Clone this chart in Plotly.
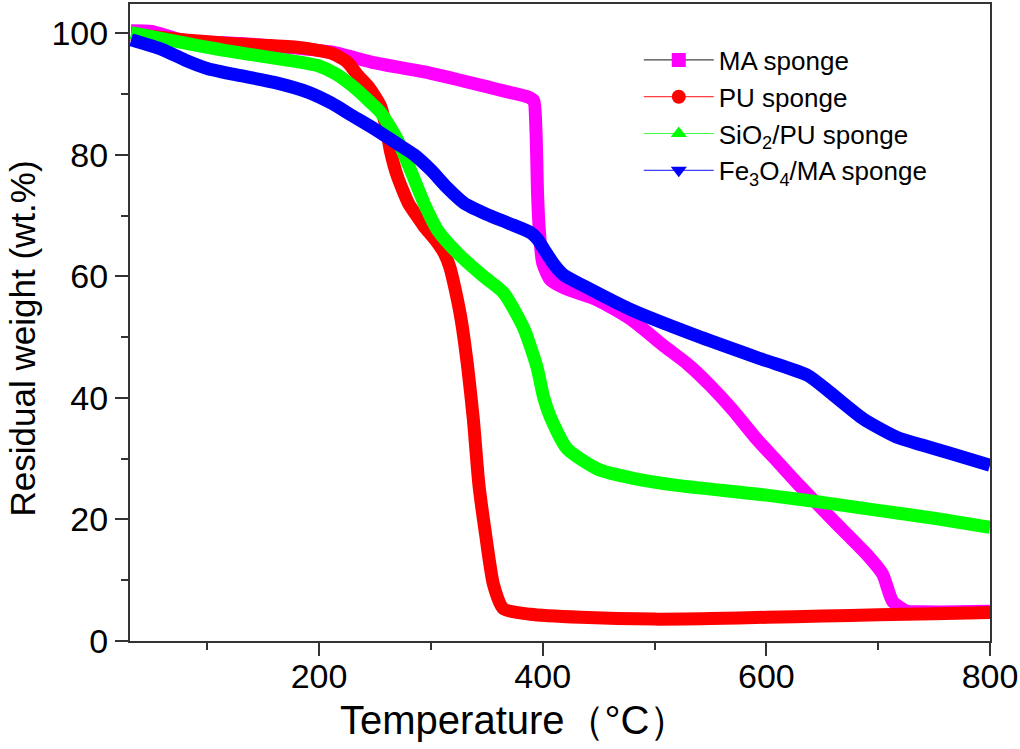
import plotly.graph_objects as go

# ---- data ----
names = ["MA sponge", "PU sponge", "SiO<sub>2</sub>/PU sponge", "Fe<sub>3</sub>O<sub>4</sub>/MA sponge"]
colors = ["#ff00ff", "#ff0000", "#00ff00", "#0000ff"]
legend_line_colors = ["#444444", "#ff4040", "#40ff40", "#4040ff"]
symbols = ["square", "circle", "triangle-up", "triangle-down"]

ma_T = [32, 50, 62, 75, 90, 130, 170, 211, 250, 300, 350, 365, 387, 392, 394, 395.5, 397, 400, 407,
        420, 449, 479, 508, 530, 550, 570, 590, 610, 630, 660, 690, 704, 713, 726, 740, 770, 800]
ma_W = [100.4, 100.3, 99.7, 99.0, 98.6, 98.3, 97.7, 96.9, 95.1, 93.4, 91.2, 90.5, 89.5, 88.9, 84.0, 73.2, 67.6, 62.2, 59.4,
        58.0, 56.1, 52.9, 48.6, 45.5, 42.0, 38.0, 33.5, 29.5, 25.5, 19.8, 14.2, 11.0, 6.5, 4.9, 4.8, 4.8, 4.9]

pu_T = [32, 60, 80, 120, 180, 211, 225, 235, 245, 255, 260, 264, 270, 280, 288, 294, 304, 312, 317, 321,
        327, 333, 338, 343, 349, 356, 365, 389, 434, 500, 550, 600, 650, 700, 750, 800]
pu_W = [99.8, 99.3, 98.9, 98.3, 97.7, 96.7, 95.3, 93.0, 91.0, 88.0, 84.5, 80.5, 76.5, 72.0, 69.8, 68.2, 66.0, 63.8, 61.5, 58.5,
        53.0, 45.0, 36.5, 25.7, 17.5, 9.3, 5.3, 4.4, 3.9, 3.6, 3.7, 3.9, 4.1, 4.3, 4.5, 4.7]

si_T = [32, 77, 121, 181, 200, 215, 230, 245, 255, 270, 282, 294, 306, 324, 347, 365, 383, 395, 401, 407, 422, 449,
        480, 520, 560, 600, 650, 700, 750, 800]
si_W = [100.1, 98.5, 97.0, 95.3, 94.6, 93.3, 91.3, 88.8, 87.0, 82.5, 77.4, 72.0, 67.6, 63.8, 60.0, 57.3, 51.5, 45.0, 40.0, 36.8, 31.6, 28.3,
        26.8, 25.6, 24.8, 24.0, 22.8, 21.5, 20.2, 18.7]

fe_T = [32, 60, 80, 100, 130, 160, 190, 211, 229, 250, 270, 285, 300, 315, 330, 350, 370, 389, 395, 401, 410, 419,
        437, 479, 538, 597, 637, 657, 687, 717, 740, 762, 800]
fe_W = [98.9, 97.3, 95.6, 94.2, 93.0, 91.9, 90.3, 88.5, 86.5, 84.2, 81.8, 80.0, 77.5, 74.5, 72.0, 70.2, 68.7, 67.2, 66.2, 64.5, 62.0, 60.2,
        58.4, 54.5, 50.2, 46.3, 43.7, 40.9, 36.5, 33.5, 32.2, 31.0, 28.9]

series_T = [ma_T, pu_T, si_T, fe_T]
series_W = [ma_W, pu_W, si_W, fe_W]

x_ticks = [200, 400, 600, 800]
y_ticks = [0, 20, 40, 60, 80, 100]

FONT = "Arial, Liberation Sans, sans-serif"

fig = go.Figure()

# thick data bands
for T, W, c in zip(series_T, series_W, colors):
    fig.add_trace(go.Scatter(x=T, y=W, mode="lines",
                             line=dict(color=c, width=13, shape="spline", smoothing=0.6),
                             showlegend=False, hoverinfo="skip"))

# legend entries
for n, c, lc, s in zip(names, colors, legend_line_colors, symbols):
    fig.add_trace(go.Scatter(x=[None], y=[None], mode="lines+markers", name=n,
                             line=dict(color=lc, width=1.2),
                             marker=dict(color=c, symbol=s, size=14, line=dict(width=0))))

axis_common = dict(
    showline=True, linecolor="#333333", linewidth=2, mirror=True,
    ticks="outside", tickwidth=2, tickcolor="#333333", ticklen=13,
    showgrid=False, zeroline=False,
    tickfont=dict(family=FONT, size=34, color="black"),
)

fig.update_xaxes(range=[31, 800], tickvals=x_ticks, ticklabelstandoff=-9,
                 minor=dict(ticks="outside", ticklen=7, tickwidth=2, tickcolor="#333333", dtick=100, tick0=0),
                 **axis_common)
fig.update_yaxes(range=[0, 104.8], tickvals=y_ticks,
                 minor=dict(ticks="outside", ticklen=7, tickwidth=2, tickcolor="#333333", dtick=10, tick0=0),
                 **axis_common)

# axis titles placed as annotations to match the reference position
fig.add_annotation(text="Temperature（°C）", xref="paper", yref="paper",
                   x=(514 - 130) / 860, y=-(720 - 641) / 640, xanchor="center", yanchor="middle",
                   showarrow=False, font=dict(family=FONT, size=40, color="black"))
fig.add_annotation(text="Residual weight (wt.%)", xref="paper", yref="paper",
                   x=-(130 - 22) / 860, y=(641 - 337) / 640, xanchor="center", yanchor="middle",
                   textangle=-90, showarrow=False, font=dict(family=FONT, size=35, color="black"))

fig.update_layout(
    width=1020, height=749,
    margin=dict(l=130, r=30, t=2, b=108),
    plot_bgcolor="white", paper_bgcolor="white",
    legend=dict(x=0.5916, y=0.949, xanchor="left", yanchor="top",
                font=dict(family=FONT, size=26, color="black"),
                bgcolor="rgba(0,0,0,0)", itemwidth=70, tracegroupgap=0),
)

fig.write_html("out.html")
